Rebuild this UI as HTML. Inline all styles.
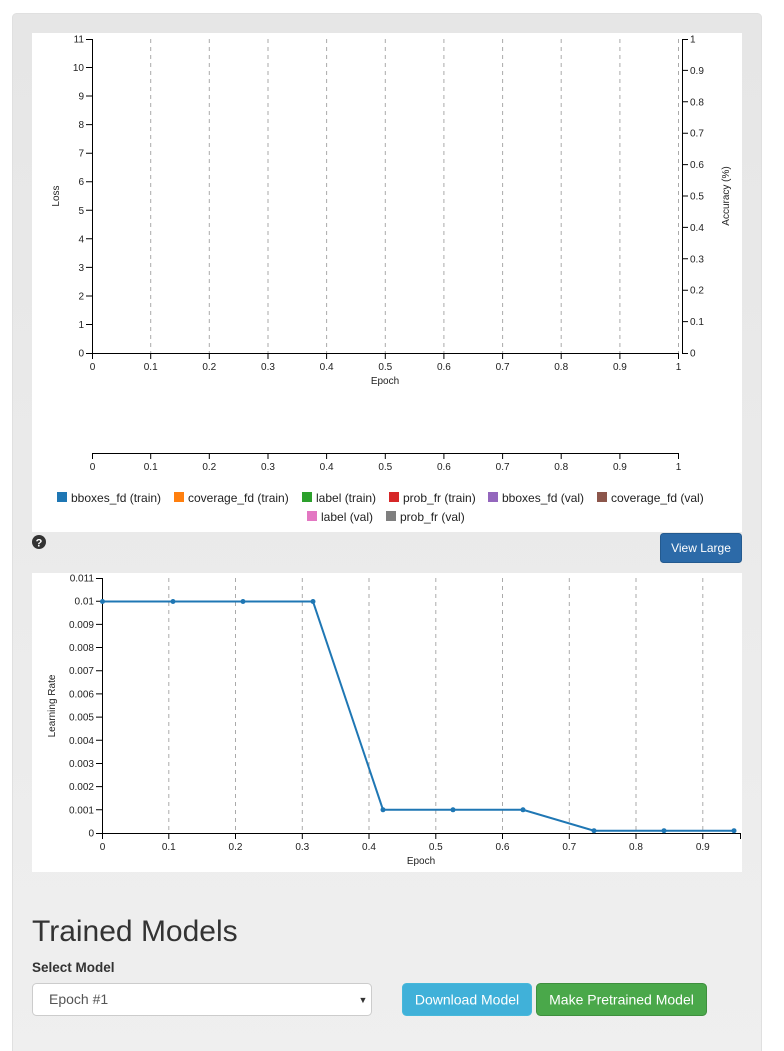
<!DOCTYPE html>
<html><head><meta charset="utf-8"><style>
html,body{margin:0;padding:0;background:#fff;width:784px;height:1051px;overflow:hidden}
svg{display:block}
text{font-family:"Liberation Sans",sans-serif;fill:#222}
.t{font-size:10px}
</style></head><body>
<svg width="784" height="1051" viewBox="0 0 784 1051" xmlns="http://www.w3.org/2000/svg">
<defs>
<linearGradient id="bg" x1="0" y1="0" x2="0" y2="1"><stop offset="0" stop-color="#e6e6e6"/><stop offset="1" stop-color="#efefef"/></linearGradient>
</defs>
<rect x="12.5" y="13.5" width="749" height="1050" rx="4" fill="url(#bg)" stroke="#e0e0e0"/>
<!-- loss chart -->
<rect x="32" y="33" width="710" height="499" fill="#fff"/>
<g stroke="#aaa" stroke-dasharray="4,4" stroke-width="1">
<line x1="150.7" y1="39" x2="150.7" y2="353"/><line x1="209.3" y1="39" x2="209.3" y2="353"/><line x1="268" y1="39" x2="268" y2="353"/><line x1="326.6" y1="39" x2="326.6" y2="353"/><line x1="385.3" y1="39" x2="385.3" y2="353"/><line x1="443.9" y1="39" x2="443.9" y2="353"/><line x1="502.6" y1="39" x2="502.6" y2="353"/><line x1="561.2" y1="39" x2="561.2" y2="353"/><line x1="619.9" y1="39" x2="619.9" y2="353"/><line x1="678.5" y1="39" x2="678.5" y2="353"/>
</g>
<g stroke="#000" fill="none" stroke-width="1">
<path d="M86,39.5H92.5V353.5H86"/>
<path d="M86,67.5h6M86,96h6M86,124.6h6M86,153.2h6M86,181.7h6M86,210.3h6M86,238.8h6M86,267.4h6M86,296h6M86,324.5h6"/>
<path d="M688,39.5H682.5V353.5H688"/>
<path d="M682,70.4h6M682,101.8h6M682,133.2h6M682,164.6h6M682,196h6M682,227.4h6M682,258.8h6M682,290.2h6M682,321.6h6"/>
<path d="M92.5,359V353.5H678.5V359"/>
<path d="M150.7,353v6M209.3,353v6M268,353v6M326.6,353v6M385.3,353v6M443.9,353v6M502.6,353v6M561.2,353v6M619.9,353v6"/>
<path d="M92.5,459V453.5H678.5V459"/>
<path d="M150.7,453v6M209.3,453v6M268,453v6M326.6,453v6M385.3,453v6M443.9,453v6M502.6,453v6M561.2,453v6M619.9,453v6"/>
</g>
<g class="t" text-anchor="end">
<text x="84" y="42.5">11</text><text x="84" y="71">10</text><text x="84" y="99.5">9</text><text x="84" y="128">8</text><text x="84" y="156.7">7</text><text x="84" y="185.2">6</text><text x="84" y="213.8">5</text><text x="84" y="242.3">4</text><text x="84" y="270.9">3</text><text x="84" y="299.5">2</text><text x="84" y="328">1</text><text x="84" y="356.5">0</text>
</g>
<g class="t">
<text x="690" y="42.5">1</text><text x="690" y="73.9">0.9</text><text x="690" y="105.3">0.8</text><text x="690" y="136.7">0.7</text><text x="690" y="168.1">0.6</text><text x="690" y="199.5">0.5</text><text x="690" y="230.9">0.4</text><text x="690" y="262.3">0.3</text><text x="690" y="293.7">0.2</text><text x="690" y="325.1">0.1</text><text x="690" y="356.5">0</text>
</g>
<g class="t" text-anchor="middle">
<text x="92.5" y="370">0</text><text x="150.7" y="370">0.1</text><text x="209.3" y="370">0.2</text><text x="268" y="370">0.3</text><text x="326.6" y="370">0.4</text><text x="385.3" y="370">0.5</text><text x="443.9" y="370">0.6</text><text x="502.6" y="370">0.7</text><text x="561.2" y="370">0.8</text><text x="619.9" y="370">0.9</text><text x="678.5" y="370">1</text>
<text x="385" y="384">Epoch</text>
<text x="92.5" y="470">0</text><text x="150.7" y="470">0.1</text><text x="209.3" y="470">0.2</text><text x="268" y="470">0.3</text><text x="326.6" y="470">0.4</text><text x="385.3" y="470">0.5</text><text x="443.9" y="470">0.6</text><text x="502.6" y="470">0.7</text><text x="561.2" y="470">0.8</text><text x="619.9" y="470">0.9</text><text x="678.5" y="470">1</text>
<text transform="translate(59,196) rotate(-90)">Loss</text>
<text transform="translate(729,196) rotate(-90)">Accuracy (%)</text>
</g>
<!-- legend -->
<g font-size="12">
<rect x="57" y="492" width="10" height="10" fill="#1f77b4"/><text x="71" y="502">bboxes_fd (train)</text>
<rect x="174" y="492" width="10" height="10" fill="#ff7f0e"/><text x="188" y="502">coverage_fd (train)</text>
<rect x="302" y="492" width="10" height="10" fill="#2ca02c"/><text x="316" y="502">label (train)</text>
<rect x="389" y="492" width="10" height="10" fill="#d62728"/><text x="403" y="502">prob_fr (train)</text>
<rect x="488" y="492" width="10" height="10" fill="#9467bd"/><text x="502" y="502">bboxes_fd (val)</text>
<rect x="597" y="492" width="10" height="10" fill="#8c564b"/><text x="611" y="502">coverage_fd (val)</text>
<rect x="307" y="511" width="10" height="10" fill="#e377c2"/><text x="321" y="521">label (val)</text>
<rect x="386" y="511" width="10" height="10" fill="#7f7f7f"/><text x="400" y="521">prob_fr (val)</text>
</g>
<!-- help icon -->
<circle cx="39" cy="542" r="7" fill="#333"/>
<text x="39" y="546.5" text-anchor="middle" font-size="11" font-weight="bold" style="fill:#fff">?</text>
<!-- view large -->
<rect x="660.5" y="533.5" width="81" height="29" rx="3" fill="#2c6aa8" stroke="#245a8f"/>
<text x="701" y="552" text-anchor="middle" font-size="12" style="fill:#fff">View Large</text>
<!-- LR chart -->
<rect x="32" y="573" width="710" height="299" fill="#fff"/>
<g stroke="#aaa" stroke-dasharray="4,4">
<line x1="168.8" y1="578" x2="168.8" y2="833"/><line x1="235.5" y1="578" x2="235.5" y2="833"/><line x1="302.3" y1="578" x2="302.3" y2="833"/><line x1="369" y1="578" x2="369" y2="833"/><line x1="435.8" y1="578" x2="435.8" y2="833"/><line x1="502.5" y1="578" x2="502.5" y2="833"/><line x1="569.3" y1="578" x2="569.3" y2="833"/><line x1="636" y1="578" x2="636" y2="833"/><line x1="702.8" y1="578" x2="702.8" y2="833"/>
</g>
<g stroke="#000" fill="none">
<path d="M96,578.5H102.5V833.5H96"/>
<path d="M96,601.2h6M96,624.4h6M96,647.5h6M96,670.7h6M96,693.9h6M96,717.1h6M96,740.3h6M96,763.5h6M96,786.6h6M96,809.8h6"/>
<path d="M102.5,839V833.5H740.5V839"/>
<path d="M168.8,833v6M235.5,833v6M302.3,833v6M369,833v6M435.8,833v6M502.5,833v6M569.3,833v6M636,833v6M702.8,833v6"/>
</g>
<g class="t" text-anchor="end">
<text x="94" y="581.5">0.011</text><text x="94" y="604.7">0.01</text><text x="94" y="627.9">0.009</text><text x="94" y="651">0.008</text><text x="94" y="674.2">0.007</text><text x="94" y="697.4">0.006</text><text x="94" y="720.6">0.005</text><text x="94" y="743.8">0.004</text><text x="94" y="767">0.003</text><text x="94" y="790.1">0.002</text><text x="94" y="813.3">0.001</text><text x="94" y="836.5">0</text>
</g>
<g class="t" text-anchor="middle">
<text x="102.5" y="850">0</text><text x="168.8" y="850">0.1</text><text x="235.5" y="850">0.2</text><text x="302.3" y="850">0.3</text><text x="369" y="850">0.4</text><text x="435.8" y="850">0.5</text><text x="502.5" y="850">0.6</text><text x="569.3" y="850">0.7</text><text x="636" y="850">0.8</text><text x="702.8" y="850">0.9</text>
<text x="421" y="864">Epoch</text>
<text transform="translate(55,706) rotate(-90)">Learning Rate</text>
</g>
<polyline fill="none" stroke="#1f77b4" stroke-width="2" points="102.5,601.5 173,601.5 243,601.5 313,601.5 383,809.8 453,809.8 523,809.8 594,830.7 664,830.7 734,830.7"/>
<g fill="#1f77b4">
<circle cx="102.5" cy="601.5" r="2.5"/><circle cx="173" cy="601.5" r="2.5"/><circle cx="243" cy="601.5" r="2.5"/><circle cx="313" cy="601.5" r="2.5"/><circle cx="383" cy="809.8" r="2.5"/><circle cx="453" cy="809.8" r="2.5"/><circle cx="523" cy="809.8" r="2.5"/><circle cx="594" cy="830.7" r="2.5"/><circle cx="664" cy="830.7" r="2.5"/><circle cx="734" cy="830.7" r="2.5"/>
</g>
<line x1="32" y1="950" x2="742" y2="950" stroke="#e4e4e4" opacity="0"/>
<!-- trained models -->
<text x="32" y="941" font-size="30" style="fill:#333">Trained Models</text>
<text x="32" y="972" font-size="13.5" font-weight="bold" style="fill:#333">Select Model</text>
<rect x="32.5" y="983.5" width="339" height="32" rx="4" fill="#fff" stroke="#ccc"/>
<text x="49" y="1004" font-size="14" style="fill:#555">Epoch #1</text>
<text x="363" y="1003" font-size="9" text-anchor="middle" style="fill:#333">▼</text>
<rect x="402.5" y="983.5" width="129" height="32" rx="4" fill="#40b1d9" stroke="#46b8da"/>
<text x="467" y="1004.5" font-size="14" text-anchor="middle" style="fill:#fff">Download Model</text>
<rect x="536.5" y="983.5" width="170" height="32" rx="4" fill="#4aa84a" stroke="#3e8f3e"/>
<text x="621.5" y="1004.5" font-size="14" text-anchor="middle" style="fill:#fff">Make Pretrained Model</text>
</svg>
</body></html>
